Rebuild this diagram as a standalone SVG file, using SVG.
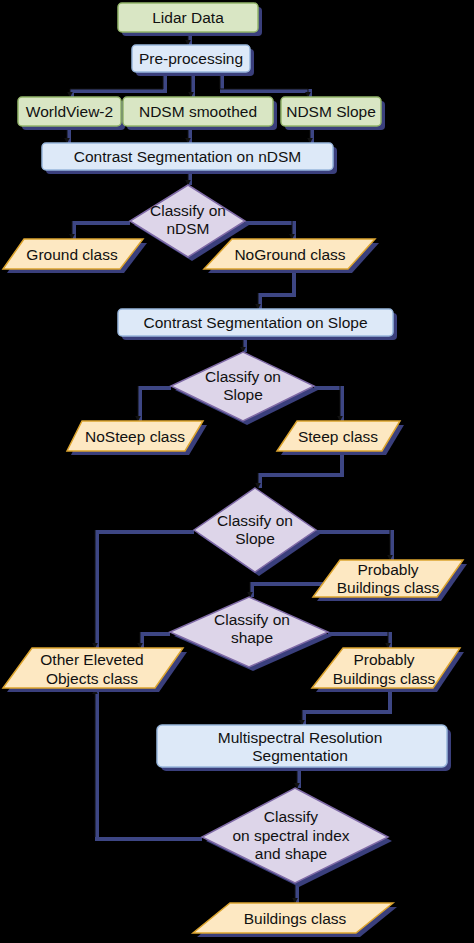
<svg xmlns="http://www.w3.org/2000/svg" width="474" height="943" viewBox="0 0 474 943">
<defs>
<marker id="ah" viewBox="0 0 10 10" refX="9" refY="5" markerWidth="6" markerHeight="6" orient="auto" markerUnits="userSpaceOnUse">
<path d="M0,0 L10,5 L0,10 z" fill="#111"/>
</marker>
<style>
.sh{fill:#3a3f7c}
.g{fill:#d9e6c4;stroke:#93b56a;stroke-width:1.5}
.b{fill:#dde9f8;stroke:#98b6dc;stroke-width:1.5}
.d{fill:#ddd5e9;stroke:#7f6aa6;stroke-width:1.5}
.o{fill:#fde8c2;stroke:#dca42e;stroke-width:1.5}
.c{fill:none;stroke:#3d4684;stroke-width:4;stroke-linejoin:miter}
.a{fill:none;stroke:#111;stroke-width:1;marker-end:url(#ah)}
text{font-family:"Liberation Sans",Arial,sans-serif;font-size:15.5px;fill:#111;text-anchor:middle}
</style>
</defs>
<rect width="474" height="943" fill="#000"/>
<g id="connectors">
<path class="c" d="M190,32 V45"/>
<path class="c" d="M165,72 V91 H72 V97"/>
<path class="c" d="M193,72 V97"/>
<path class="c" d="M222,72 V91 H310 V97"/>
<path class="c" d="M69,126 V143"/>
<path class="c" d="M190,126 V143"/>
<path class="c" d="M312,126 V143"/>
<path class="c" d="M190,170 V185"/>
<path class="c" d="M130,223 H74 V239"/>
<path class="c" d="M245,223 H294 V239"/>
<path class="c" d="M294,269 V295 H260 V309"/>
<path class="c" d="M245,336 V352"/>
<path class="c" d="M171,388 H140 V421"/>
<path class="c" d="M314,388 H342 V421"/>
<path class="c" d="M342,451 V475 H260 V488"/>
<path class="c" d="M194,532 H97 V648"/>
<path class="c" d="M316,532 H392 V560"/>
<path class="c" d="M323,584 H252 V597"/>
<path class="c" d="M170,634 H142 V648"/>
<path class="c" d="M328,634 H390 V648"/>
<path class="c" d="M390,688 V712 H304 V725"/>
<path class="c" d="M299,767 V788"/>
<path class="c" d="M202,839 H97 V688"/>
<path class="c" d="M297,883 V903"/>
<path class="a" d="M188,32 V45"/>
<path class="a" d="M191,72 V97"/>
<path class="a" d="M163,72 V89 H70 V97"/>
<path class="a" d="M220,72 V89 H308 V97"/>
<path class="a" d="M67,126 V143"/>
<path class="a" d="M188,126 V143"/>
<path class="a" d="M310,126 V143"/>
<path class="a" d="M188,170 V185"/>
<path class="a" d="M72,221 V239"/>
<path class="a" d="M292,221 V239"/>
<path class="a" d="M258,293 V309"/>
<path class="a" d="M243,336 V352"/>
<path class="a" d="M138,386 V421"/>
<path class="a" d="M340,386 V421"/>
<path class="a" d="M258,473 V488"/>
<path class="a" d="M95,530 V648"/>
<path class="a" d="M390,530 V560"/>
<path class="a" d="M250,582 V597"/>
<path class="a" d="M140,632 V648"/>
<path class="a" d="M388,632 V648"/>
<path class="a" d="M302,710 V725"/>
<path class="a" d="M297,767 V788"/>
<path class="a" d="M95,837 V689"/>
<path class="a" d="M295,883 V903"/>
</g>
<g id="lidar"><rect class="sh" x="122" y="7" width="140" height="29" rx="4"/><rect class="g" x="118" y="3" width="140" height="29" rx="4"/><text x="188" y="23">Lidar Data</text></g>
<g id="preprocessing"><rect class="sh" x="136" y="49" width="118" height="27" rx="4"/><rect class="b" x="132" y="45" width="118" height="27" rx="4"/><text x="191" y="64">Pre-processing</text></g>
<g id="worldview"><rect class="sh" x="22" y="101" width="103" height="29" rx="4"/><rect class="g" x="18" y="97" width="103" height="29" rx="4"/><text x="69.5" y="117">WorldView-2</text></g>
<g id="ndsm-smoothed"><rect class="sh" x="127" y="101" width="150" height="29" rx="4"/><rect class="g" x="123" y="97" width="150" height="29" rx="4"/><text x="198" y="117">NDSM smoothed</text></g>
<g id="ndsm-slope"><rect class="sh" x="285" y="101" width="100" height="29" rx="4"/><rect class="g" x="281" y="97" width="100" height="29" rx="4"/><text x="331" y="117">NDSM Slope</text></g>
<g id="cs-ndsm"><rect class="sh" x="46" y="147" width="291" height="27" rx="4"/><rect class="b" x="42" y="143" width="291" height="27" rx="4"/><text x="187.5" y="162">Contrast Segmentation on nDSM</text></g>
<g id="classify-ndsm"><polygon class="sh" points="192,189 249,225 192,261 134,225"/><polygon class="d" points="188,185 245,221 188,257 130,221"/><text x="188" y="216">Classify on</text><text x="188" y="234">nDSM</text></g>
<g id="ground"><polygon class="sh" points="28,243 147,243 124,273 7,273"/><polygon class="o" points="24,239 143,239 120,269 3,269"/><text x="72" y="259.5">Ground class</text></g>
<g id="noground"><polygon class="sh" points="236,243 379,243 352,273 208,273"/><polygon class="o" points="232,239 375,239 348,269 204,269"/><text x="290" y="259.5">NoGround class</text></g>
<g id="cs-slope"><rect class="sh" x="122" y="313" width="275" height="27" rx="4"/><rect class="b" x="118" y="309" width="275" height="27" rx="4"/><text x="255.5" y="328">Contrast Segmentation on Slope</text></g>
<g id="classify-slope1"><polygon class="sh" points="247,356 318,390 247,425 175,390"/><polygon class="d" points="243,352 314,386 243,421 171,386"/><text x="243" y="382">Classify on</text><text x="243" y="400">Slope</text></g>
<g id="nosteep"><polygon class="sh" points="86,425 207,425 189,455 71,455"/><polygon class="o" points="82,421 203,421 185,451 67,451"/><text x="135" y="441.5">NoSteep class</text></g>
<g id="steep"><polygon class="sh" points="301,425 404,425 386,455 281,455"/><polygon class="o" points="297,421 400,421 382,451 277,451"/><text x="338" y="441.5">Steep class</text></g>
<g id="classify-slope2"><polygon class="sh" points="259,492 320,534 259,576 198,534"/><polygon class="d" points="255,488 316,530 255,572 194,530"/><text x="255" y="526">Classify on</text><text x="255" y="544">Slope</text></g>
<g id="probably1"><polygon class="sh" points="344,564 467,564 441,601 317,601"/><polygon class="o" points="340,560 463,560 437,597 313,597"/><text x="388" y="575">Probably</text><text x="388" y="593">Buildings class</text></g>
<g id="classify-shape"><polygon class="sh" points="253,601 332,636 253,671 174,636"/><polygon class="d" points="249,597 328,632 249,667 170,632"/><text x="252" y="625">Classify on</text><text x="252" y="643">shape</text></g>
<g id="other"><polygon class="sh" points="36,652 187,652 159,692 7,692"/><polygon class="o" points="32,648 183,648 155,688 3,688"/><text x="92" y="665">Other Eleveted</text><text x="92" y="684">Objects class</text></g>
<g id="probably2"><polygon class="sh" points="347,652 464,652 437,692 316,692"/><polygon class="o" points="343,648 460,648 433,688 312,688"/><text x="384" y="665">Probably</text><text x="384" y="684">Buildings class</text></g>
<g id="multispectral"><rect class="sh" x="161" y="729" width="290" height="42" rx="5"/><rect class="b" x="157" y="725" width="290" height="42" rx="5"/><text x="300" y="743">Multispectral Resolution</text><text x="300" y="761">Segmentation</text></g>
<g id="classify-spectral"><polygon class="sh" points="299,792 392,841 299,887 206,841"/><polygon class="d" points="295,788 388,837 295,883 202,837"/><text x="291" y="822">Classify</text><text x="291" y="841">on spectral index</text><text x="291" y="859">and shape</text></g>
<g id="buildings"><polygon class="sh" points="234,907 397,907 360,937 197,937"/><polygon class="o" points="230,903 393,903 356,933 193,933"/><text x="295" y="923.5">Buildings class</text></g>
</svg>
